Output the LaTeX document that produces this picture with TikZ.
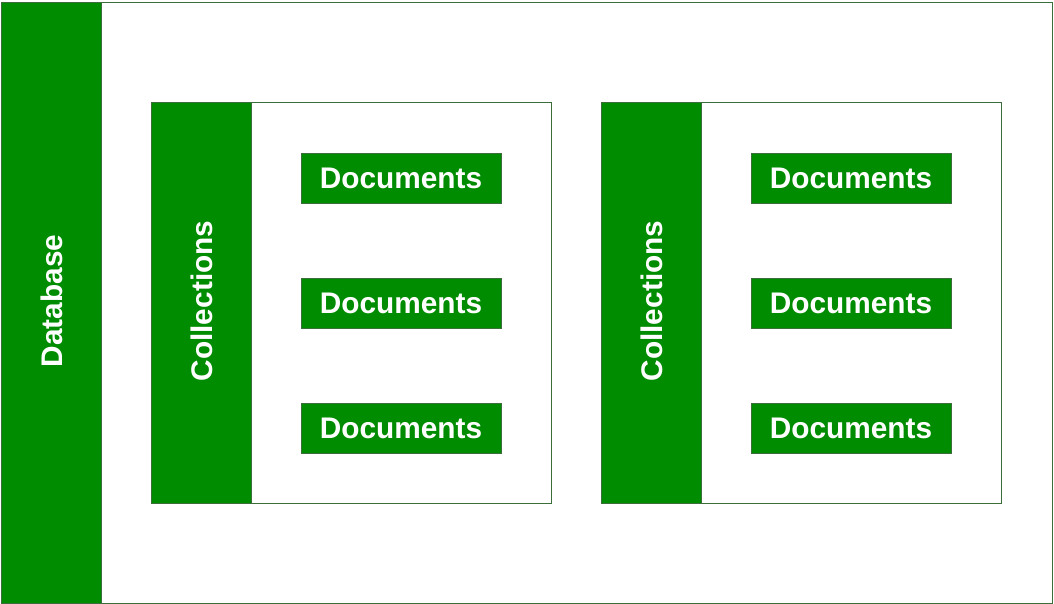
\documentclass[tikz,border=0pt]{standalone}
\usepackage{fontspec}
\setmainfont{Liberation Sans}
\definecolor{gfill}{RGB}{0,140,0}
\definecolor{gline}{RGB}{60,110,60}
\begin{document}
\begin{tikzpicture}[x=1pt,y=-1pt,
  bar/.style={fill=gfill,draw=gline,line width=1pt},
  frame/.style={draw=gline,line width=1pt,fill=white},
  lbl/.style={text=white,font=\fontsize{29.8}{31}\selectfont\bfseries,inner sep=0pt},
  doc/.style={fill=gfill,draw=gline,line width=0.8pt,minimum width=200pt,minimum height=50pt,inner sep=0pt,text=white,font=\fontsize{29.8}{31}\selectfont\bfseries}]
\useasboundingbox (0,0) rectangle (1054,604);
\fill[white] (0,0) rectangle (1054,604);
% database
\draw[frame] (1.5,2.5) rectangle (1052.5,603);
\draw[bar] (1.5,2.5) rectangle (101,603);
\node[lbl,rotate=90] (db) at (52,301) {Database};
% collection 1
\draw[frame] (151,103) rectangle (551,503);
\draw[bar] (151,103) rectangle (251,503);
\node[lbl,rotate=90] (c1) at (202,301) {Collections};
\node[doc] (d11) at (401,178) {\raisebox{-1pt}{Documents}};
\node[doc] (d12) at (401,303) {\raisebox{-1pt}{Documents}};
\node[doc] (d13) at (401,428) {\raisebox{-1pt}{Documents}};
% collection 2
\draw[frame] (601,103) rectangle (1001,503);
\draw[bar] (601,103) rectangle (701,503);
\node[lbl,rotate=90] (c2) at (652,301) {Collections};
\node[doc] (d21) at (851,178) {\raisebox{-1pt}{Documents}};
\node[doc] (d22) at (851,303) {\raisebox{-1pt}{Documents}};
\node[doc] (d23) at (851,428) {\raisebox{-1pt}{Documents}};
\end{tikzpicture}
\end{document}
